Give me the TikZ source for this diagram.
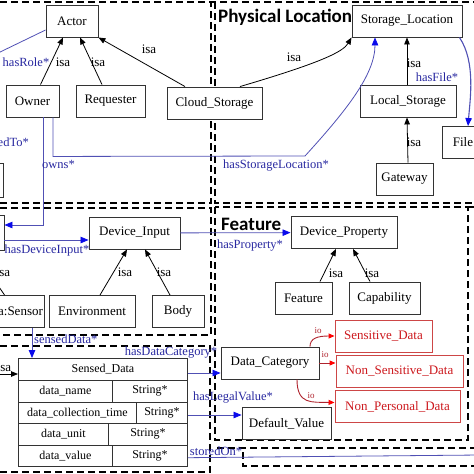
\documentclass[tikz,border=0pt]{standalone}
\usepackage{fontspec}
\setmainfont{Liberation Serif}
\newfontfamily\classfont{Liberation Serif}
\newfontfamily\headfont{Carlito}
\usetikzlibrary{arrows.meta,calc}
\definecolor{linkblue}{RGB}{80,80,180}
\definecolor{labelblue}{RGB}{40,40,160}
\definecolor{tipblue}{RGB}{10,10,235}
\definecolor{iored}{RGB}{175,35,45}
\definecolor{boxred}{RGB}{205,70,70}
\definecolor{textred}{RGB}{205,25,30}

\begin{document}
\begin{tikzpicture}[x=1pt, y=-1pt,
    cls/.style={draw=black!80, line width=0.9pt, fill=white, minimum height=32pt, inner sep=0pt, font=\classfont\fontsize{13}{15}\selectfont},
    redcls/.style={cls, draw=boxred, text=textred},
    cell/.style={draw=black!80, line width=0.9pt, fill=white, minimum height=21.5pt, inner sep=0pt, font=\classfont\fontsize{12}{14}\selectfont},
    isa/.style={draw, line width=0.8pt, -{Triangle[length=7pt,width=5.5pt]}},
    link/.style={draw=linkblue, line width=0.8pt, -{Triangle[length=8pt,width=6.5pt,color=tipblue]}},
    io/.style={draw=iored, line width=0.9pt, -{Triangle[length=6pt,width=5pt,color=red]}},
    isalabel/.style={font=\classfont\fontsize{13}{15}\selectfont, inner sep=1pt},
    linklabel/.style={text=labelblue, font=\classfont\fontsize{12.5}{14}\selectfont, inner sep=1pt},
    iolabel/.style={text=iored, font=\classfont\fontsize{9}{10}\selectfont, inner sep=1pt},
    region/.style={line width=2pt, dash pattern=on 7pt off 4pt},
    title/.style={font=\headfont\bfseries\fontsize{19}{21}\selectfont, inner sep=0pt, anchor=west}
    ]

    \useasboundingbox (0,0) rectangle (474,474);

    \newcommand{\classlist}{
        Actor/72/21/52/Actor,
        Owner/32.5/101/53/Owner,
        Requester/110.5/101/69/Requester,
        CloudStorage/214.5/103/95/Cloud\_Storage,
        StorageLocation/407/21/110/Storage\_Location,
        LocalStorage/408/101/96/Local\_Storage,
        File/463/142.5/42/File,
        Gateway/404.5/179/57/Gateway,
        DeviceInput/134.5/233/91/Device\_Input,
        Sensor/20.5/311.5/47/a:Sensor,
        Environment/92/311.5/86/Environment,
        Body/178/311.5/52/Body,
        DeviceProperty/344/232.5/106/Device\_Property,
        Feature/303.5/298/57/Feature,
        Capability/384.5/298/71/Capability,
        DataCategory/270/363/98/Data\_Category,
        DefaultValue/286.5/423.5/89/Default\_Value
    }

    \newcommand{\categorylist}{
        SensitiveData/383.5/336/97/Sensitive\_Data,
        NonSensitiveData/399.5/371/127/Non\_Sensitive\_Data,
        NonPersonalData/397.5/406.5/125/Non\_Personal\_Data
    }

    % Regions
    \draw[region] (0,2) -- (474,2);
    \draw[region] (0,203) -- (211,203) -- (211,2);
    \draw[region] (215,2) -- (215,203) -- (474,203);
    \draw[region] (0,208) -- (211,208) -- (211,335) -- (0,335);
    \draw[region] (215,207) rectangle (468,440);
    \draw[region] (468,207) -- (474,207);
    \draw[region] (0,346) -- (210,346) -- (210,474);
    \draw[region] (0,472) -- (210,472);
    \draw[region] (217,448) -- (474,448);
    \draw[region] (243,452) -- (243,466) -- (474,466);

    \node[title, name=physical] at (218,17) {Physical Location};
    \node[title, name=featuretitle] at (221,224) {Feature};

    % Define classes
    \foreach \name/\x/\y/\w/\txt in \classlist {
        \node[cls, minimum width=\w pt, at={(\x,\y)}, name=\name] {\txt};
    }
    \foreach \name/\x/\y/\w/\txt in \categorylist {
        \node[redcls, minimum width=\w pt, at={(\x,\y)}, name=\name] {\txt};
    }
    \node[cls, minimum width=26pt, minimum height=34pt, name=Left1] at (-10,180) {};
    \node[cls, minimum width=28pt, minimum height=35pt, name=Left2] at (-10,232.5) {};

    % Sensed data table
    \node[cell, minimum width=169pt, minimum height=22pt, anchor=north west, name=SD] at (18,358) {Sensed\_Data};
    \foreach \top/\split/\attr [count = \i] in {380/112/data\_name, 401.5/136/data\_collection\_time, 423/108/data\_unit, 444.5/112/data\_value} {
        \pgfmathsetmacro{\wa}{\split-18}
        \pgfmathsetmacro{\wb}{187-\split}
        \node[cell, minimum width=\wa pt, anchor=north west, name=SDa\i] at (18,\top) {\attr};
        \node[cell, minimum width=\wb pt, anchor=north west, name=SDt\i] at (\split,\top) {String*};
    }

    % isa edges
    \foreach \from/\fs/\to/\ts/\lx/\ly [count = \i] in {
        Owner/8/Actor/-9/63/62,
        Requester/-8.5/Actor/8/98/62,
        Environment/8/DeviceInput/-7.5/125/272,
        Body/-8/DeviceInput/10.5/164/272,
        Feature/16.5/DeviceProperty/-8/336/273,
        Capability/-14.5/DeviceProperty/9/372/273,
        LocalStorage/-1/StorageLocation/0/414/63,
        Gateway/3.5/LocalStorage/-1/414/142} {
        \draw[isa] ($(\from.north)+(\fs,0)$) -- ($(\to.south)+(\ts,0)$);
        \node[isalabel, name=isa\i] at (\lx,\ly) {isa};
    }
    \draw[isa] ($(CloudStorage.north)+(-29.5,0)$) -- (Actor.south east);
    \node[isalabel, name=isacloud] at (149,49) {isa};
    \draw[isa] ($(CloudStorage.north)+(25.5,0)$) .. controls (320,63) and (343,52) .. (StorageLocation.south west);
    \node[isalabel, name=isastore] at (294,57) {isa};
    \coordinate (sensorup) at (-3,284);
    \draw[line width=0.8pt] ($(Sensor.north west)+(8,0)$) -- (sensorup);
    \node[isalabel, name=isasensor] at (3,272) {isa};
    \coordinate (tablein) at (-5,374);
    \draw[isa] (tablein) -- (tablein -| SD.west);
    \node[isalabel, name=isatable] at (4,367) {isa};

    % Property edges
    \coordinate (roleend) at (-4,54);
    \draw[linkblue, line width=0.8pt] ($(Actor.west)+(0,9)$) -- (roleend);
    \node[linklabel, name=hasrole] at (26,62) {hasRole*};
    \node[linklabel, anchor=east, name=edto] at (30,142) {edTo*};

    \coordinate (ownsend) at ($(Left2.east)+(0,-7.5)$);
    \draw[link] ($(Owner.south)+(10.5,0)$) |- (ownsend);
    \node[linklabel, anchor=west, name=owns] at (41,164) {owns*};

    \draw[link] ($(Owner.south)+(20.5,0)$) -- ++(0,39) -- (305,156) .. controls (345,112) and (375,75) .. ($(StorageLocation.south)+(-32,0)$);
    \node[linklabel, name=hasstorage] at (276,166) {hasStorageLocation*};

    \draw[link, line width=1.1pt] ($(StorageLocation.south east)+(-3,0)$) .. controls (476,62) and (470,100) .. ($(File.north)+(5,0)$);
    \node[linklabel, name=hasfile] at (437,77) {hasFile*};

    \coordinate (diin) at ($(DeviceInput.west)+(0,7)$);
    \draw[link] (Left2.east |- diin) -- (diin);
    \node[linklabel, name=hasdevice] at (47,250) {hasDeviceInput*};

    \draw[link] (DeviceInput) -- (DeviceProperty);
    \node[linklabel, name=hasproperty] at (250,246) {hasProperty*};

    \coordinate (sdin) at ($(Sensor.south)+(11.5,0)$);
    \draw[link] (sdin) -- (sdin |- SD.north);
    \node[linklabel, anchor=west, name=senseddata] at (33,339) {sensedData*};

    \coordinate (dcin) at ($(DataCategory.west)+(0,10)$);
    \draw[link] (SD.east |- dcin) -- (dcin);
    \node[linklabel, name=hascategory] at (171,353) {hasDataCategory*};

    \coordinate (dvin) at ($(DefaultValue.west)+(0,-8.5)$);
    \draw[link] (SDt2.east |- dvin) -- (dvin);
    \node[linklabel, name=haslegal] at (233,398) {hasLegalValue*};

    \coordinate (storedend) at (480,455);
    \draw[linkblue, line width=0.8pt] ($(SDt4.east)+(0,2)$) -- (storedend);
    \node[linklabel, name=storedon] at (216,451) {storedOn*};

    % io edges
    \draw[io] ($(DataCategory.north)+(40,0)$) .. controls (310,338) and (318,336) .. (SensitiveData.west);
    \draw[io] (DataCategory.east) -- (DataCategory.east -| NonSensitiveData.west);
    \draw[io] ($(DataCategory.south)+(27,0)$) .. controls (297,405) and (312,402) .. ($(NonPersonalData.west)+(0,-4)$);
    \foreach \lx/\ly [count = \i] in {318/331, 325/355, 311/396} {
        \node[iolabel, name=io\i] at (\lx,\ly) {io};
    }
\end{tikzpicture}
\end{document}
